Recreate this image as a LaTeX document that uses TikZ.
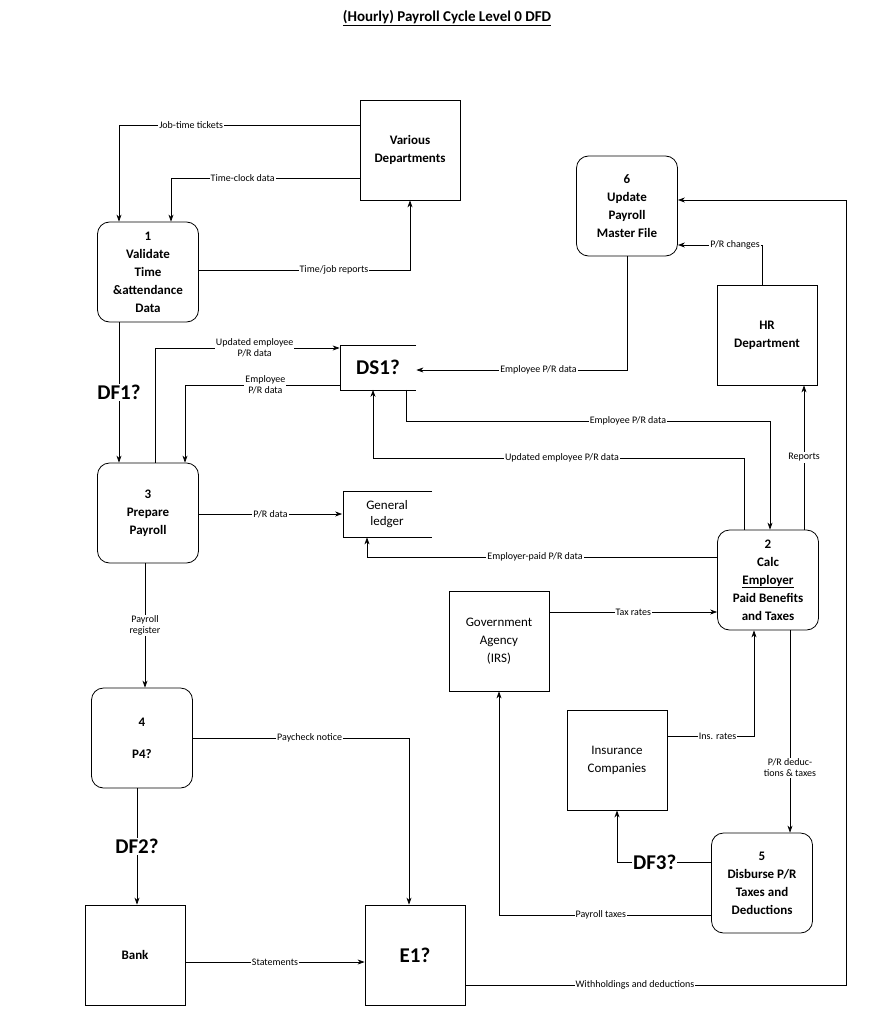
\documentclass[tikz,border=0pt]{standalone}
\usepackage{fontspec}
\setmainfont{Carlito}
\usetikzlibrary{arrows.meta}
\begin{document}
\begin{tikzpicture}[x=1pt,y=-1pt,
  proc/.style={draw,rounded corners=12pt,minimum width=101pt,minimum height=100pt,align=center,font=\bfseries\fontsize{13}{18}\selectfont},
  ent/.style={draw,minimum width=100pt,minimum height=100pt,align=center,font=\fontsize{13}{18}\selectfont},
  lab/.style={fill=white,inner sep=1pt,font=\fontsize{10}{11}\selectfont,align=center},
  big/.style={font=\bfseries\fontsize{21}{24}\selectfont},
  arr/.style={-{Stealth[length=7pt,width=5pt]},line width=0.6pt},
  every node/.style={line width=0.8pt}]
\useasboundingbox (0,0) rectangle (885,1024);
\node[font=\bfseries\fontsize{15}{17}\selectfont] (title) at (447,18) {\underline{(Hourly) Payroll Cycle Level 0 DFD}};
\node[ent,font=\bfseries\fontsize{13}{18}\selectfont] (vd) at (410,150) {Various\\Departments};
\node[proc] (p1) at (148,272) {1\\Validate\\Time\\\&attendance\\Data};
\node[proc] (p6) at (627,206) {6\\Update\\Payroll\\Master File};
\node[ent,font=\bfseries\fontsize{13}{18}\selectfont] (hr) at (767,335) {HR\\Department};
\node[proc] (p3) at (148,513) {3\\Prepare\\Payroll};
\node[proc] (p2) at (768,580) {2\\Calc\\\underline{Employer}\\Paid Benefits\\and Taxes};
\node[ent] (gov) at (499,641) {Government\\Agency\\(IRS)};
\node[ent] (ins) at (617,760) {Insurance\\Companies};
\node[proc] (p4) at (142,738) {4\\[14pt]P4?};
\node[proc] (p5) at (762,883) {5\\Disburse P/R\\Taxes and\\Deductions};
\node[ent,font=\bfseries\fontsize{13}{18}\selectfont] (bank) at (135,955) {Bank};
\node[ent,big] (e1) at (415,955) {E1?};
% data stores
\node[minimum width=76pt,minimum height=45pt,big] (ds1) at (378,367) {DS1?};
\draw[line width=0.8pt] (416,345) -- (340,345) -- (340,390) -- (416,390);
\node[minimum width=89pt,minimum height=46pt,align=center,font=\fontsize{13}{16}\selectfont] (gl) at (387,514) {General\\ledger};
\draw[line width=0.8pt] (432,491) -- (343,491) -- (343,537) -- (432,537);
% connectors
\draw[arr] (vd.west |- 0,125) -| (p1.north -| 119,0) node[lab,pos=0.35] {Job-time tickets};
\draw[arr] (vd.west |- 0,178) -| (p1.north -| 171,0) node[lab,pos=0.31] {Time-clock data};
\draw[arr] (p1.east |- 0,270) -| (vd.south) node[lab,pos=0.32] {Time/job reports};
\draw[arr] (p1.south -| 119,0) -- (p3.north -| 119,0) node[big,pos=0.5,fill=white,inner sep=1pt] {DF1?};
\draw[arr] (p3.north -| 155,0) |- (ds1.west |- 0,348) node[lab,pos=0.77] {Updated employee\\P/R data};
\draw[arr] (ds1.west |- 0,385) -| (p3.north -| 185,0) node[lab,pos=0.24] {Employee\\P/R data};
\draw[arr] (p6.south) |- (ds1.east |- 0,370) node[lab,pos=0.71] {Employee P/R data};
\draw[arr] (hr.north -| 762,0) |- (p6.east |- 0,245) node[lab,pos=0.66] {P/R changes};
\draw[arr] (ds1.south -| 406,0) |- (770,421) -- (p2.north -| 770,0);
\node[lab] (l1) at (628,421) {Employee P/R data};
\draw[arr] (p2.north -| 744,0) |- (373,458) -- (ds1.south -| 373,0);
\node[lab] (l2) at (562,458) {Updated employee P/R data};
\draw[arr] (p2.north -| 804,0) -- (hr.south -| 804,0) node[lab,pos=0.5] {Reports};
\draw[arr] (p3.east |- 0,514) -- (gl.west) node[lab,pos=0.5] {P/R data};
\draw[arr] (p2.west |- 0,557) -| (gl.south -| 367,0) node[lab,pos=0.26] {Employer-paid P/R data};
\draw[arr] (gov.east |- 0,612) -- (p2.west |- 0,612) node[lab,pos=0.5] {Tax rates};
\draw[arr] (ins.east |- 0,736) -| (p2.south -| 754,0) node[lab,pos=0.29] {Ins. rates};
\draw[arr] (p2.south -| 790,0) -- (p5.north -| 790,0) node[lab,pos=0.68] {P/R deduc-\\tions \& taxes};
\draw[arr,line width=1pt] (p5.west |- 0,862) -| (ins.south) node[big,pos=0.3,fill=white,inner sep=1pt] {DF3?};
\draw[arr] (p5.west |- 0,915) -| (gov.south) node[lab,pos=0.26] {Payroll taxes};
\draw[arr] (p3.south -| 145,0) -- (p4.north -| 145,0) node[lab,pos=0.5] {Payroll\\register};
\draw[arr] (p4.east |- 0,738) -| (e1.north -| 409,0) node[lab,pos=0.27] {Paycheck notice};
\draw[arr] (p4.south -| 137,0) -- (bank.north -| 137,0) node[big,pos=0.5,fill=white,inner sep=1pt] {DF2?};
\draw[arr] (bank.east |- 0,962) -- (e1.west |- 0,962) node[lab,pos=0.5] {Statements};
\draw[arr] (e1.east |- 0,985) -- (846,985) |- (p6.east |- 0,200);
\node[lab] (l3) at (635,985) {Withholdings and deductions};
\end{tikzpicture}
\end{document}
